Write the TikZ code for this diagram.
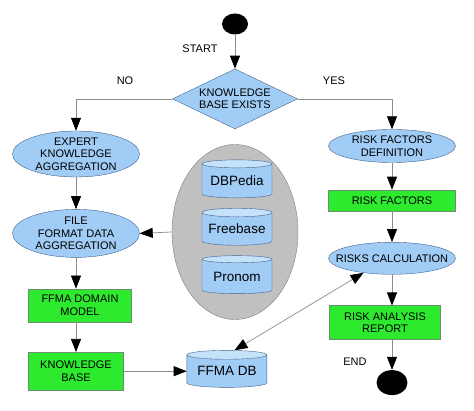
\documentclass[tikz,border=0pt]{standalone}
\usepackage{fontspec}
\setmainfont{Liberation Sans}
\usepackage{tikz}
\usetikzlibrary{arrows.meta, positioning, shapes, calc}

\definecolor{procblue}{RGB}{160,204,245}
\definecolor{capblue}{RGB}{196,226,250}
\definecolor{procedge}{RGB}{70,100,140}
\definecolor{stepgreen}{RGB}{46,234,46}
\definecolor{boxedge}{RGB}{110,140,110}
\definecolor{poolgrey}{RGB}{192,192,192}
\definecolor{linegrey}{RGB}{140,140,140}

\begin{document}
\begin{tikzpicture}[x=1pt, y=1pt, node distance=30pt,
    font=\fontsize{11}{12.5}\selectfont,
    proc/.style={ellipse, draw=procedge, fill=procblue, align=center, inner xsep=0pt, inner ysep=-3pt, minimum width=127pt},
    outbox/.style={rectangle, draw=boxedge, fill=stepgreen, align=center, inner sep=0pt},
    store/.style={cylinder, shape border rotate=90, aspect=0.15, draw=procedge, cylinder uses custom fill,
        cylinder body fill=procblue, cylinder end fill=capblue, inner sep=0pt, font=\fontsize{13.5}{15}\selectfont},
    terminal/.style={ellipse, fill=black, inner sep=0pt},
    flow/.style={draw=linegrey, line width=0.7pt, -{Triangle[length=13pt, width=10pt, color=black]}}]
    \useasboundingbox (0,0) rectangle (474,-411);

    % Start and decision
    \node (start) [terminal, minimum width=26pt, minimum height=21pt] at (235,-24) {};
    \node (kbexists) [diamond, aspect=2, draw=procedge, fill=procblue, align=center, inner sep=0pt,
        minimum width=125pt, minimum height=60pt, below=34pt of start] {KNOWLEDGE\\BASE EXISTS};
    \node (startlbl) at (200,-49) {START};
    \node (nolbl) at (125,-81) {NO};
    \node (yeslbl) at (334,-81) {YES};

    % Left branch: building the knowledge base
    \node (expert) [proc, minimum height=46pt] at (76,-154) {EXPERT\\KNOWLEDGE\\AGGREGATION};
    \node (fileagg) [proc, minimum height=48pt, below=32pt of expert] {FILE\\FORMAT DATA\\AGGREGATION};
    \node (domain) [outbox, minimum width=103pt, minimum height=33pt, below=31pt of fileagg, xshift=4pt] {FFMA DOMAIN\\MODEL};
    \node (kbase) [outbox, minimum width=95pt, minimum height=38pt, below=30pt of domain, xshift=-4pt] {KNOWLEDGE\\BASE};
    \node (ffmadb) [store, minimum width=80pt, minimum height=37pt, right=63pt of kbase] {FFMA DB};

    % External sources
    \node (pool) [ellipse, draw=gray, fill=poolgrey, minimum width=126pt, minimum height=175pt] at (235,-232) {};
    \node (freebase) [store, minimum width=70pt, minimum height=37pt, xshift=2pt, yshift=3pt] at (pool) {Freebase};
    \node (dbpedia) [store, minimum width=70pt, minimum height=38pt, above=10pt of freebase] {DBPedia};
    \node (pronom) [store, minimum width=70pt, minimum height=38pt, below=10pt of freebase] {Pronom};

    % Right branch: risk analysis
    \node (rfdef) [proc, minimum height=33pt] at (392,-146) {RISK FACTORS\\DEFINITION};
    \node (rfactors) [outbox, minimum width=127pt, minimum height=21pt, below=27pt of rfdef] {RISK FACTORS};
    \node (rcalc) [proc, inner xsep=-12pt, minimum height=32pt, below=31pt of rfactors] {RISKS CALCULATION};
    \node (report) [outbox, minimum width=111pt, minimum height=34pt, below=31pt of rcalc, xshift=-7pt] {RISK ANALYSIS\\REPORT};
    \node (finish) [terminal, minimum width=31pt, minimum height=25pt, below=30pt of report, xshift=7pt] {};
    \node (endlbl) at (355,-362) {END};

    % Arrows
    \draw[flow] (start) -- (kbexists);
    \draw[flow] (kbexists.west) -| (expert.north);
    \draw[flow] (kbexists.east) -| (rfdef.north);
    \draw[flow] (expert) -- (fileagg);
    \draw[flow] (pool.west) -- (fileagg.east);
    \draw[flow] (fileagg.south) -- (fileagg.south |- domain.north);
    \draw[flow] (kbase.north |- domain.south) -- (kbase.north);
    \draw[flow] (kbase.east) -- (ffmadb.west);
    \draw[flow, {Triangle[length=13pt, width=10pt, color=black]}-{Triangle[length=13pt, width=10pt, color=black]}] (ffmadb.70) -- (rcalc.207);
    \draw[flow] (rfdef) -- (rfactors);
    \draw[flow] (rfactors) -- (rcalc);
    \draw[flow] (rcalc.south) -- (rcalc.south |- report.north);
    \draw[flow] (finish.north |- report.south) -- (finish.north);
\end{tikzpicture}
\end{document}
